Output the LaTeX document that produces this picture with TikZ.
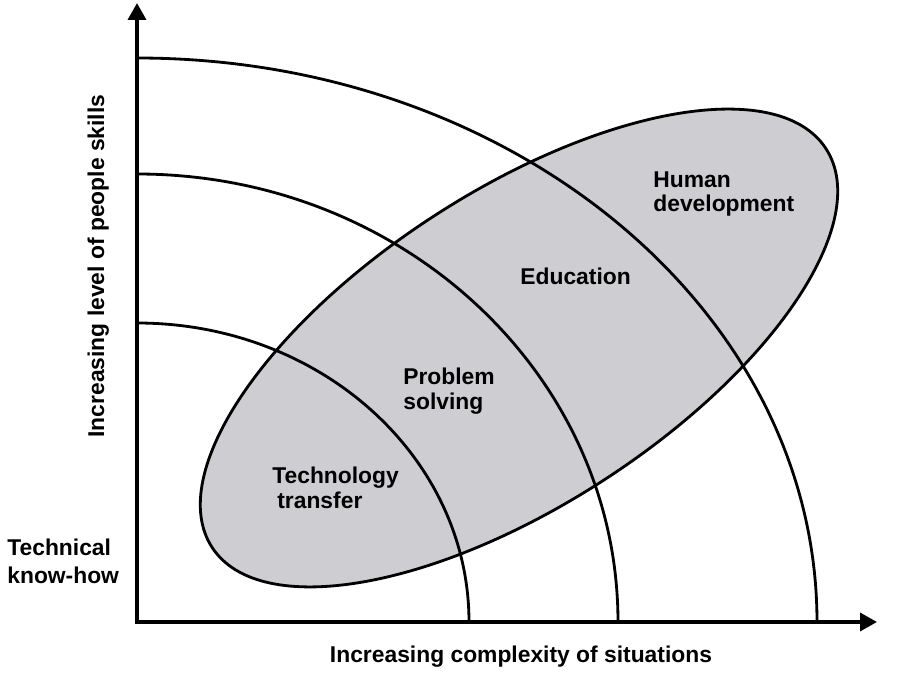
\documentclass[tikz,border=0pt]{standalone}
\usepackage{fontspec}
\setmainfont{Liberation Sans}
\usetikzlibrary{arrows.meta}
\definecolor{zonegray}{RGB}{205,205,210}
\tikzstyle{axisline}=[
  line width=2pt,
  {Triangle[length=0.34cm, width=0.36cm]}-{Triangle[length=0.34cm, width=0.36cm]}
]
\tikzstyle{ring}=[line width=1.6pt]
\tikzstyle{zone}=[draw=black, fill=zonegray, line width=1.6pt]
\tikzstyle{word}=[
  inner sep=0pt,
  align=left,
  font=\bfseries\fontsize{13}{14}\selectfont
]

\begin{document}
\begin{tikzpicture}[x=0.02cm, y=0.02cm]
          \useasboundingbox (0,0) rectangle (900,684);
          \def \ox {137}
          \def \oy {62}

          \coordinate (O) at (\ox, \oy);
          \coordinate (xend) at (877, \oy);
          \coordinate (yend) at (\ox, 681);
          \coordinate (C) at (519, 336);

          \draw[zone, rotate around={33:(C)}] (C) ellipse [x radius=366, y radius=157];

          \foreach \i/\rx/\ry in {1/332/299, 2/481/448, 3/680/564}{
            \coordinate (r\i) at (\ox, \oy + \ry);
            \draw[ring] (r\i) arc[start angle=90, end angle=0, x radius=\rx, y radius=\ry];
          }

          \draw[axisline] (yend) -- (O) -- (xend);

          % base anchor sits on the last line
          \node[word, anchor=base west] (tech) at (272, 176) {Technology\\\hspace{0.1cm}transfer};
          \node[word, anchor=base west] (prob) at (403, 275) {Problem\\solving};
          \node[word, anchor=base west] (edu) at (520, 399) {Education};
          \node[word, anchor=base west] (human) at (653, 472) {Human\\development};
          \node[word, anchor=base west, font=\bfseries\fontsize{13}{15.6}\selectfont] (know) at (7, 101) {Technical\\know-how};

          \node[word, anchor=base] (xname) at (521, 22) {Increasing complexity of situations};
          \node[word, anchor=base, rotate=90] (yname) at (104, 418) {Increasing level of people skills};
        \end{tikzpicture}
\end{document}
